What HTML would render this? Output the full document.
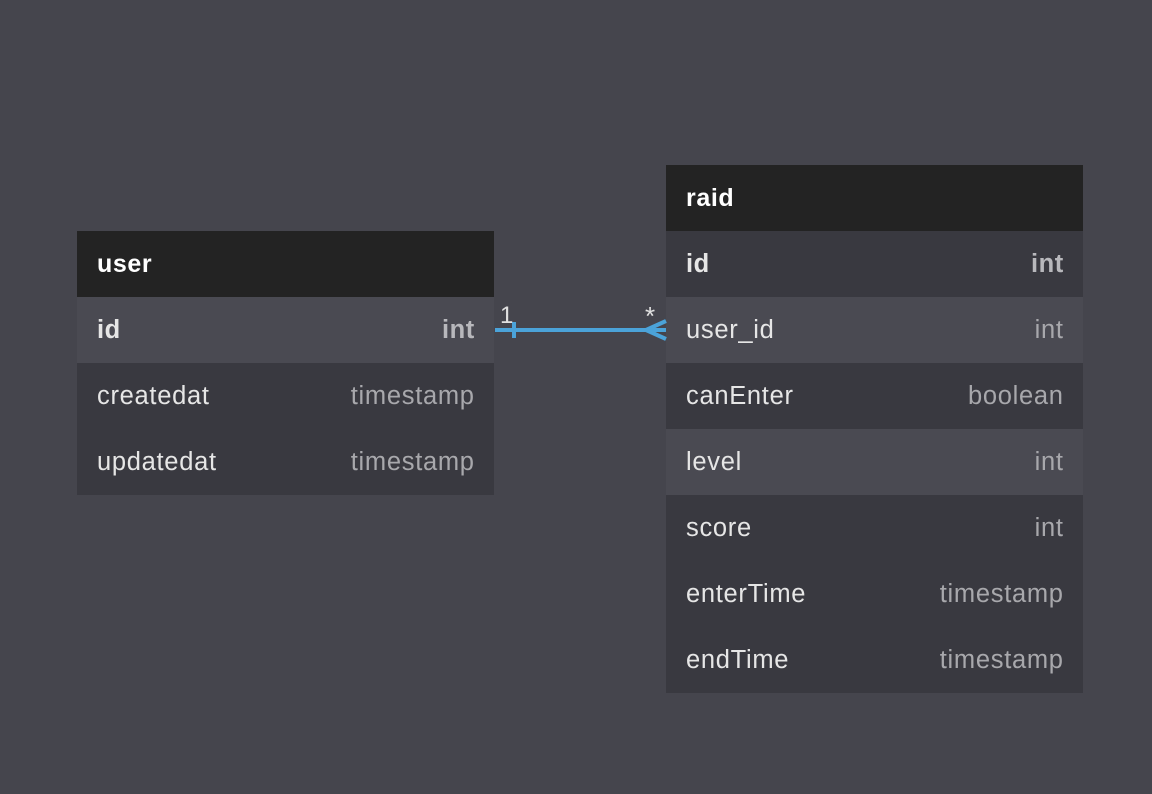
<!DOCTYPE html>
<html><head><style>
body{margin:0;width:1152px;height:794px;background:#45454d;font-family:"Liberation Sans",sans-serif;position:relative;overflow:hidden}
.t{position:absolute;width:417px}
.h{height:66px;background:#232323;color:#fff;font-weight:bold;font-size:25px;line-height:66px;padding-left:20px;box-sizing:border-box;letter-spacing:0.6px}
.r{height:66px;background:#393940;color:#e6e6e6;font-size:25.5px;line-height:66px;padding:0 20px;box-sizing:border-box;display:flex;justify-content:space-between;letter-spacing:0.7px}
.r span:last-child{color:#a8a8ac;margin-right:-0.7px}
.l{background:#4a4a52}
.b{font-weight:bold;letter-spacing:0.5px}
.b span:last-child{color:#b8b8bc}
</style></head><body>
<div class="t" style="left:77px;top:231px">
<div class="h">user</div>
<div class="r l b"><span>id</span><span>int</span></div>
<div class="r"><span>createdat</span><span>timestamp</span></div>
<div class="r"><span>updatedat</span><span>timestamp</span></div>
</div>
<div class="t" style="left:666px;top:165px">
<div class="h">raid</div>
<div class="r b"><span>id</span><span>int</span></div>
<div class="r l"><span>user_id</span><span>int</span></div>
<div class="r"><span>canEnter</span><span>boolean</span></div>
<div class="r l"><span>level</span><span>int</span></div>
<div class="r"><span>score</span><span>int</span></div>
<div class="r"><span>enterTime</span><span>timestamp</span></div>
<div class="r"><span>endTime</span><span>timestamp</span></div>
</div>
<svg width="1152" height="794" style="position:absolute;left:0;top:0">
<g stroke="#4ba3d9" stroke-width="4" fill="none">
<line x1="495" y1="330" x2="666" y2="330"/>
<line x1="514" y1="322" x2="514" y2="338"/>
<line x1="646" y1="330" x2="666" y2="321"/>
<line x1="646" y1="330" x2="666" y2="339"/>
</g>
<text x="500" y="323" fill="#e0e0e0" font-size="24" font-family="Liberation Sans">1</text>
<text x="645" y="325" fill="#e0e0e0" font-size="26" font-family="Liberation Sans">*</text>
</svg>
</body></html>
